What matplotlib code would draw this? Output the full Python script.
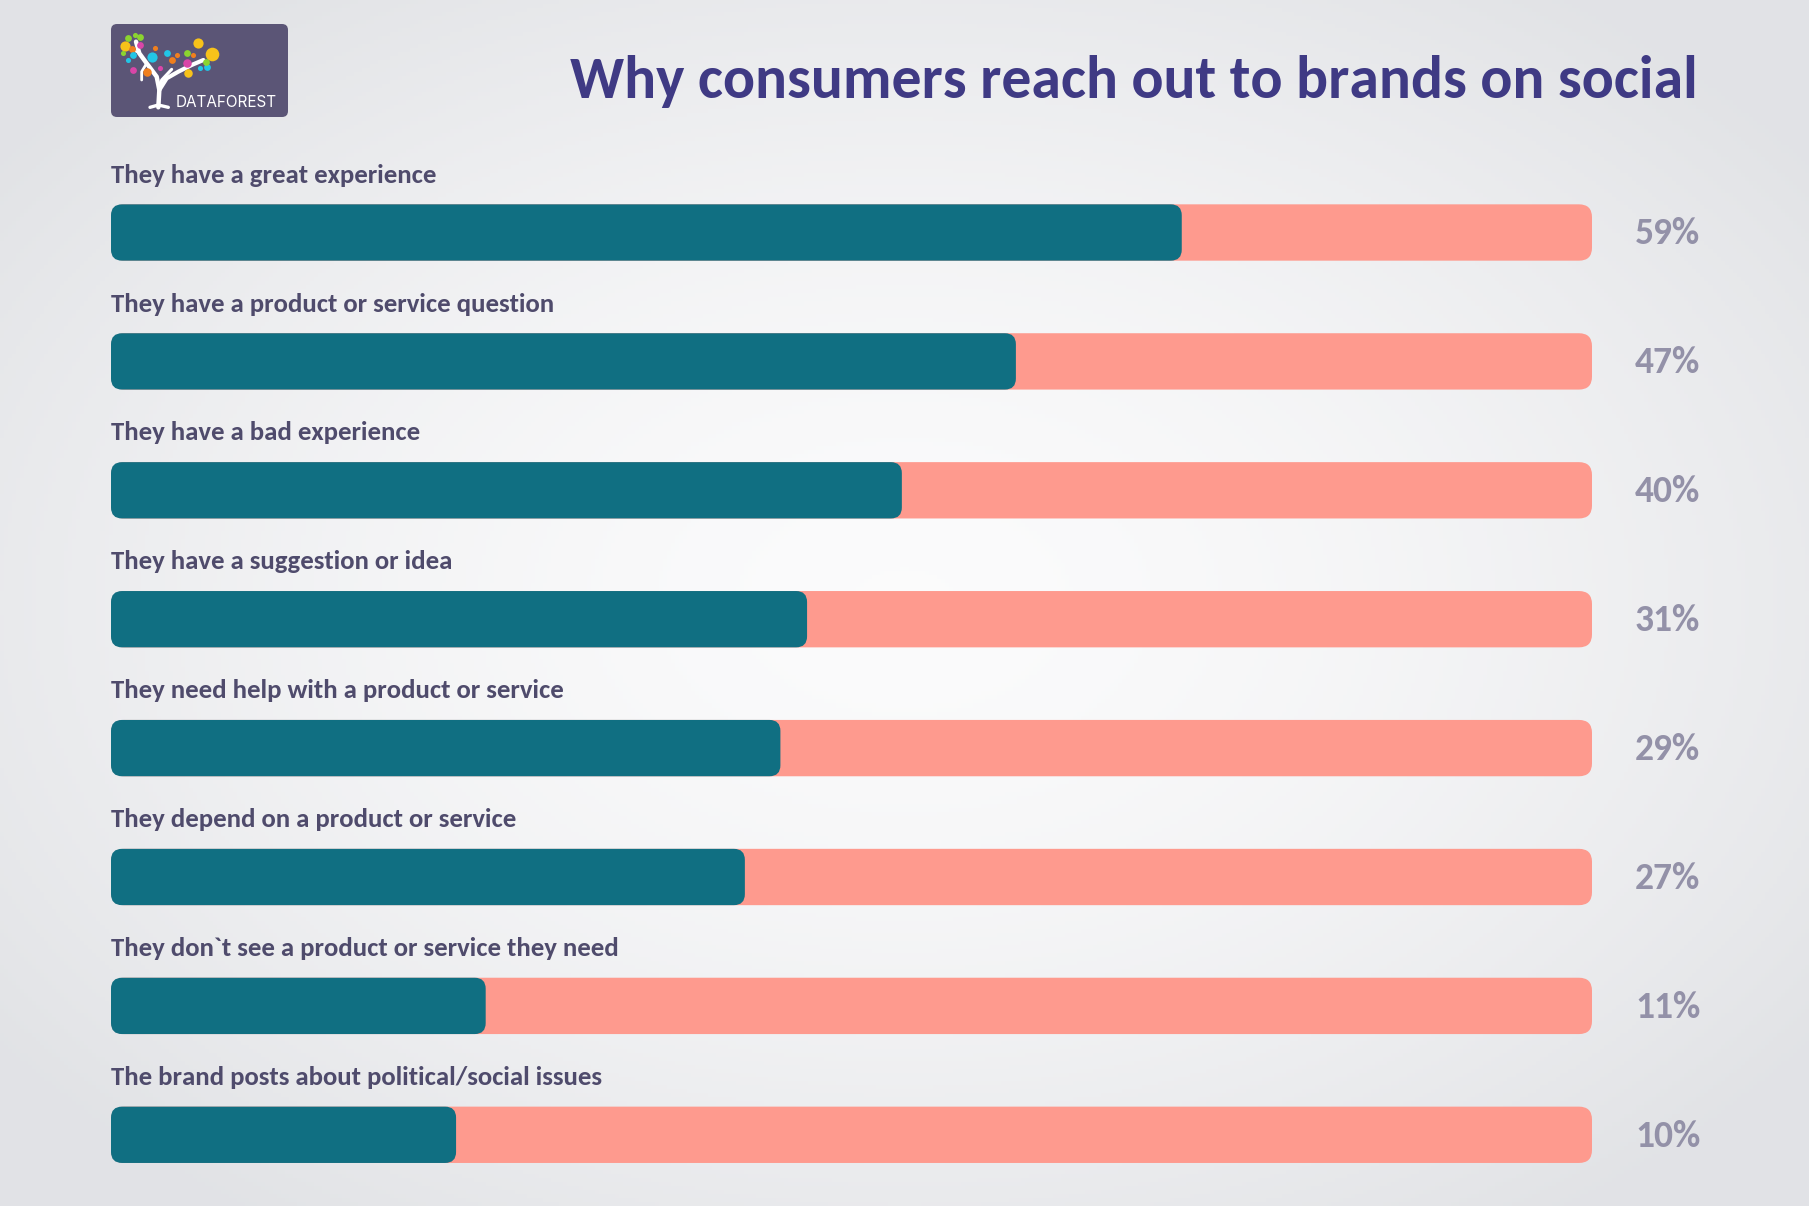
import numpy as np
import matplotlib
matplotlib.use("Agg")
import matplotlib.pyplot as plt
from matplotlib.patches import FancyBboxPatch
from matplotlib import font_manager

# ---------------- data ----------------
categories = [
    "They have a great experience",
    "They have a product or service question",
    "They have a bad experience",
    "They have a suggestion or idea",
    "They need help with a product or service",
    "They depend on a product or service",
    "They don`t see a product or service they need",
    "The brand posts about political/social issues",
]
values = [59, 47, 40, 31, 29, 27, 11, 10]
# filled share of each track as drawn in the original (percent of track length)
fill_lengths = [72.3, 61.1, 53.4, 47.0, 45.2, 42.8, 25.3, 23.3]
title = "Why consumers reach out to brands on social"
logo_text = "DATAFOREST"

# ---------------- fonts ----------------
avail = {f.name for f in font_manager.fontManager.ttflist}
FONT = "Lato"
for cand in ["Carlito", "Lato", "Open Sans", "DejaVu Sans"]:
    if cand in avail:
        FONT = cand
        break
LOGO_FONT = "Inter" if "Inter" in avail else FONT
plt.rcParams["font.family"] = [FONT, "DejaVu Sans"]

TEAL = "#106f82"
SALMON = "#fe9a8e"
LABEL_C = "#4f4b6c"
PCT_C = "#9391a8"
TITLE_C = "#3f3a84"

W, H = 1809, 1206
fig = plt.figure(figsize=(W / 100, H / 100), dpi=100)


def px_axes(x0, y0, x1, y1, **kw):
    return fig.add_axes([x0 / W, 1 - y1 / H, (x1 - x0) / W, (y1 - y0) / H], **kw)


# ---------------- background gradient ----------------
bg = fig.add_axes([0, 0, 1, 1])
yy, xx = np.mgrid[0:1:300j, 0:1:450j]
d = np.sqrt(((xx - 0.5) / 0.62) ** 2 + ((yy - 0.5) / 0.62) ** 2)
d = np.clip(d, 0, 1)
c0 = np.array([0.985, 0.985, 0.988])
c1 = np.array([0.885, 0.89, 0.902])
img = c0[None, None, :] * (1 - d[..., None] ** 1.6) + c1[None, None, :] * (d[..., None] ** 1.6)
bg.imshow(img, extent=[0, 1, 0, 1], aspect="auto", zorder=0)
bg.set_axis_off()

# ---------------- bars ----------------
top_px, row_px, left_px, right_px = 232.5, 128.9, 111, 1592
ax = px_axes(left_px, top_px - 0.65 * row_px, right_px, top_px + 7.5 * row_px)
ax.set_xlim(0, 100)
ax.set_ylim(7.5, -0.65)
ax.set_axis_off()
ax.patch.set_alpha(0)

ppx = (right_px - left_px) / 100.0
ppy = row_px
asp = ppx / ppy
bar_h = 0.437

for i, (cat, v, f) in enumerate(zip(categories, values, fill_lengths)):
    track = FancyBboxPatch((0, i - bar_h / 2), 100, bar_h,
                           boxstyle=f"round,pad=0,rounding_size={13 / ppx}",
                           mutation_aspect=asp, fc=SALMON, ec="none", zorder=2)
    ax.add_patch(track)
    fill = FancyBboxPatch((0, i - bar_h / 2), f, bar_h,
                          boxstyle=f"round,pad=0,rounding_size={11 / ppx}",
                          mutation_aspect=asp, fc=TEAL, ec="none", zorder=3)
    ax.add_patch(fill)
    ax.text(0, i - 0.387, cat, ha="left", va="baseline", fontsize=19.3,
            fontweight="bold", color=LABEL_C, clip_on=False)
    ax.text(102.9, i + 0.01, f"{v}%", ha="left", va="center", fontsize=27,
            fontweight="bold", color=PCT_C, clip_on=False)

# ---------------- title ----------------
fig.text(1698 / W, 1 - 98 / H, title, ha="right", va="baseline", fontsize=43,
         fontweight="bold", color=TITLE_C)

# ---------------- logo ----------------
lx0, ly0, lx1, ly1 = 111, 24, 288, 117
lg = px_axes(lx0, ly0, lx1, ly1)
lg.set_xlim(0, lx1 - lx0)
lg.set_ylim(ly1 - ly0, 0)
lg.set_axis_off()
lg.patch.set_alpha(0)
lg.add_patch(FancyBboxPatch((0, 0), lx1 - lx0, ly1 - ly0,
                            boxstyle="round,pad=0,rounding_size=6",
                            fc="#5b5576", ec="none", zorder=1))


def z(p):
    return (p[0] / 3 - 11, p[1] / 3 - 14)


branches = [
    ([(175, 292), (178, 240), (170, 200), (140, 160), (118, 130), (108, 95)], 3.2),
    ([(178, 240), (200, 205), (235, 185), (275, 165), (310, 150)], 3.0),
    ([(178, 240), (185, 210), (215, 178)], 2.2),
    ([(140, 160), (125, 185), (125, 210)], 2.0),
    ([(118, 130), (100, 120)], 1.6),
    ([(150, 292), (175, 285), (205, 292)], 2.4),
]
for br, lw in branches:
    pts = np.array([z(p) for p in br])
    lg.plot(pts[:, 0], pts[:, 1], color="white", lw=lw, solid_capstyle="round",
            solid_joinstyle="round", zorder=2)

dots = [
    ((85, 85), "#8bd430", 4), ((105, 75), "#8bd430", 3), ((120, 82), "#8bd430", 4),
    ((75, 108), "#f7c21a", 6), ((295, 100), "#f7c21a", 6), ((335, 132), "#f7c21a", 8),
    ((265, 190), "#f7c21a", 5), ((95, 118), "#f07f1e", 4), ((215, 150), "#f07f1e", 4),
    ((140, 185), "#f07f1e", 5), ((165, 115), "#f07f1e", 3), ((280, 135), "#f07f1e", 3),
    ((100, 135), "#22c6e6", 4), ((157, 140), "#22c6e6", 6), ((200, 130), "#22c6e6", 4),
    ((300, 175), "#22c6e6", 3), ((320, 172), "#22c6e6", 4), ((85, 150), "#22c6e6", 3),
    ((120, 105), "#d946a8", 4), ((100, 180), "#d946a8", 4), ((180, 175), "#d946a8", 3),
    ((262, 158), "#d946a8", 5), ((260, 130), "#8bd430", 4), ((318, 155), "#8bd430", 4),
    ((70, 130), "#8bd430", 3), ((230, 135), "#f07f1e", 3),
]
for p, c, s in dots:
    x, y = z(p)
    lg.scatter([x], [y], s=s ** 2 * 1.5, color=c, zorder=3, linewidths=0)

lg.text(65, 83, logo_text, ha="left", va="baseline", fontsize=11,
        family=[LOGO_FONT, "DejaVu Sans"], color="white", zorder=4)

fig.savefig("out.png", dpi=100)
